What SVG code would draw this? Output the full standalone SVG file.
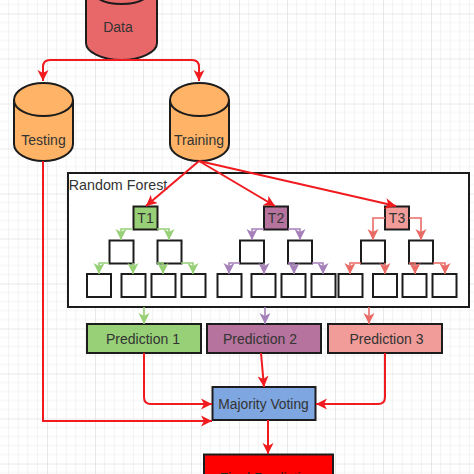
<svg xmlns="http://www.w3.org/2000/svg" width="474" height="474" viewBox="0 0 474 474">
<defs>
<pattern id="grid" width="48" height="45" patternUnits="userSpaceOnUse" patternTransform="translate(-1 13.500)">
<path d="M9.600 0V45M19.200 0V45M28.800 0V45M38.400 0V45M0 9H48M0 18H48M0 27H48M0 36H48" fill="none" stroke="#f2f2f2" stroke-width="1"/>
<path d="M0 0V45M0 0H48" fill="none" stroke="#e2e2e2" stroke-width="1.600"/>
</pattern>
<marker id="ar" markerUnits="userSpaceOnUse" markerWidth="12" markerHeight="12" refX="11" refY="6" orient="auto"><path d="M0 0.500L11 6L0 11.500L3 6Z" fill="#f01a1f"/></marker>
<marker id="ag" markerUnits="userSpaceOnUse" markerWidth="12" markerHeight="12" refX="11" refY="6" orient="auto"><path d="M0 0.500L11 6L0 11.500L3 6Z" fill="#97d077"/></marker>
<marker id="ap" markerUnits="userSpaceOnUse" markerWidth="12" markerHeight="12" refX="11" refY="6" orient="auto"><path d="M0 0.500L11 6L0 11.500L3 6Z" fill="#a680b8"/></marker>
<marker id="as" markerUnits="userSpaceOnUse" markerWidth="12" markerHeight="12" refX="11" refY="6" orient="auto"><path d="M0 0.500L11 6L0 11.500L3 6Z" fill="#ea6b66"/></marker>
</defs>
<style>
.k{stroke:#1c1c1c;stroke-width:2}
.b{fill:#fff;stroke:#1c1c1c;stroke-width:2}
text{font-family:"Liberation Sans",Arial,sans-serif;fill:#333;text-anchor:middle;font-size:14px}
.r{fill:none;stroke:#f01a1f;stroke-width:2;marker-end:url(#ar)}
.g{fill:none;stroke:#97d077;stroke-width:1.600;marker-end:url(#ag)}
.p{fill:none;stroke:#a680b8;stroke-width:1.600;marker-end:url(#ap)}
.s{fill:none;stroke:#ea6b66;stroke-width:1.600;marker-end:url(#as)}
</style>
<rect width="474" height="474" fill="#fff"/>
<rect width="474" height="474" fill="url(#grid)"/>

<g id="data"><path class="k" fill="#e8686a" d="M86 -13V43C86 52 102 60 121.500 60S157 52 157 43V-13Z"/><path class="k" fill="none" d="M99 -1C105 3 113 4 121.500 4S138 3 144 -1"/><text x="118" y="31.500">Data</text></g>
<g id="testing"><path class="k" fill="#ffb366" d="M14 100V144C14 153 27 161 43.500 161S73 153 73 144V100C73 91 60 83 43.500 83S14 91 14 100Z"/><path class="k" fill="none" d="M14 100C14 109 27 116 43.500 116S73 109 73 100"/><text x="43.500" y="144.500">Testing</text></g>
<g id="training"><path class="k" fill="#ffb366" d="M170 100V144C170 153 183 161 199.500 161S229 153 229 144V100C229 91 216 83 199.500 83S170 91 170 100Z"/><path class="k" fill="none" d="M170 100C170 109 183 116 199.500 116S229 109 229 100"/><text x="199" y="144.500">Training</text></g>

<g id="random-forest"><rect x="68" y="173" width="401" height="134" fill="#fff" stroke="#1c1c1c" stroke-width="2"/><text x="118" y="189.500" style="font-size:14.300px">Random Forest</text></g>

<g id="t1"><rect class="k" x="133.500" y="206.500" width="24" height="23" fill="#97d077"/><text x="145.500" y="223">T1</text></g>
<g id="t2"><rect class="k" x="264" y="206.500" width="24" height="23" fill="#b5739d"/><text x="276" y="223">T2</text></g>
<g id="t3"><rect class="k" x="385" y="206.500" width="24" height="23" fill="#f19c99"/><text x="397" y="223">T3</text></g>

<g id="t1-l"><rect class="b" x="109.500" y="240.500" width="24" height="23"/></g>
<g id="t1-r"><rect class="b" x="157.500" y="240.500" width="24" height="23"/></g>
<g id="t2-l"><rect class="b" x="240" y="240.500" width="24" height="23"/></g>
<g id="t2-r"><rect class="b" x="288" y="240.500" width="24" height="23"/></g>
<g id="t3-l"><rect class="b" x="361" y="240.500" width="24" height="23"/></g>
<g id="t3-r"><rect class="b" x="409" y="240.500" width="24" height="23"/></g>

<g id="t1-a"><rect class="b" x="87" y="274" width="24" height="23"/></g>
<g id="t1-b"><rect class="b" x="121.500" y="274" width="24" height="23"/></g>
<g id="t1-c"><rect class="b" x="151.500" y="274" width="24" height="23"/></g>
<g id="t1-d"><rect class="b" x="181.500" y="274" width="24" height="23"/></g>
<g id="t2-a"><rect class="b" x="217.500" y="274" width="24" height="23"/></g>
<g id="t2-b"><rect class="b" x="251.500" y="274" width="24" height="23"/></g>
<g id="t2-c"><rect class="b" x="281.500" y="274" width="24" height="23"/></g>
<g id="t2-d"><rect class="b" x="311.500" y="274" width="24" height="23"/></g>
<g id="t3-a"><rect class="b" x="338.500" y="274" width="24" height="23"/></g>
<g id="t3-b"><rect class="b" x="373" y="274" width="24" height="23"/></g>
<g id="t3-c"><rect class="b" x="402.500" y="274" width="24" height="23"/></g>
<g id="t3-d"><rect class="b" x="432.500" y="274" width="24" height="23"/></g>

<g id="prediction-1"><rect class="k" x="87" y="324" width="114" height="29" fill="#97d077"/><text x="143" y="343.500">Prediction 1</text></g>
<g id="prediction-2"><rect class="k" x="207" y="324" width="114" height="29" fill="#b5739d"/><text x="260" y="343.500">Prediction 2</text></g>
<g id="prediction-3"><rect class="k" x="328" y="324" width="114" height="29" fill="#f19c99"/><text x="386.500" y="343.500">Prediction 3</text></g>
<g id="majority-voting"><rect class="k" x="212.500" y="387" width="103" height="33" fill="#7ea6e0"/><text x="263.500" y="409" style="font-size:13.800px">Majority Voting</text></g>
<g id="final-prediction"><rect class="k" x="204" y="454.500" width="129" height="30" fill="#ff0000"/><text x="268" y="483" style="fill:#222">Final Prediction</text></g>

<g id="connectors">
<path class="r" d="M121 60H50Q43 60 43 67V81"/>
<path class="r" d="M121 60H192Q199 60 199 67V81"/>
<path class="r" d="M199 161L146 206"/>
<path class="r" d="M199 161L275 206"/>
<path class="r" d="M199 161L396 206"/>
<path class="r" d="M43 161V421H212"/>
<path class="r" d="M144 353V397Q144 404 151 404H212"/>
<path class="r" d="M261 353L264 387"/>
<path class="r" d="M385 353V397Q385 404 378 404H316"/>
<path class="r" d="M268 420V454"/>

<path class="g" d="M133 229H121V240"/><path class="g" d="M157 229H169V240"/>
<path class="g" d="M109 263H99V274"/><path class="g" d="M133 263V274"/>
<path class="g" d="M157 263H163V274"/><path class="g" d="M181 263H193V274"/>
<path class="g" d="M144 307V324"/>
<path class="p" d="M264 229H252V240"/><path class="p" d="M288 229H300V240"/>
<path class="p" d="M240 263H229V274"/><path class="p" d="M264 263V274"/>
<path class="p" d="M288 263H294V274"/><path class="p" d="M312 263H323V274"/>
<path class="p" d="M265 307V324"/>
<path class="s" d="M385 218H373V240"/><path class="s" d="M409 218H421V240"/>
<path class="s" d="M361 263H350V274"/><path class="s" d="M385 263V274"/>
<path class="s" d="M409 263H415V274"/><path class="s" d="M433 263H445V274"/>
<path class="s" d="M369 307V324"/>
</g>
</svg>
